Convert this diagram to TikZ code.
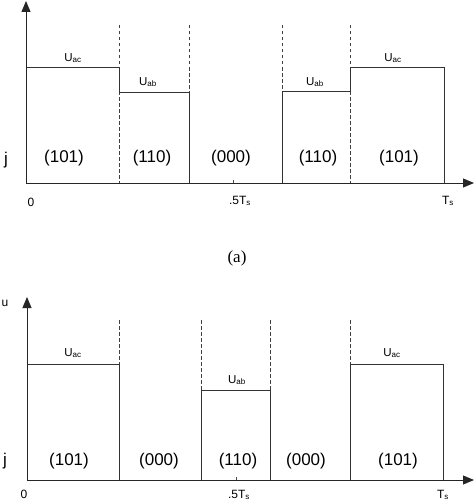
\documentclass[tikz,border=0pt]{standalone}
\usepackage{fontspec}
\setmainfont{Liberation Sans}
\newfontfamily\serifcap{Liberation Serif}
\usetikzlibrary{arrows.meta}
\tikzset{
  ax/.style={draw=black!85, line width=0.9pt, -{Triangle[length=11pt,width=9pt]}},
  wave/.style={draw=black!80, line width=0.8pt},
  divider/.style={draw=black!75, line width=0.7pt, dashed, dash pattern=on 3.5pt off 2.5pt},
  tick/.style={draw=black!70, line width=0.6pt},
  state/.style={font=\fontsize{17}{17}\selectfont, inner sep=0pt},
  lvl/.style={font=\fontsize{11.5}{12}\selectfont, inner sep=0pt},
  axl/.style={font=\fontsize{12}{12}\selectfont, inner sep=0pt},
}
\newcommand{\sbs}[1]{\textsubscript{\fontsize{8}{8}\selectfont #1}}
\begin{document}
\begin{tikzpicture}[x=1pt,y=-1pt]
\useasboundingbox (0,0) rectangle (474,503);
% ---------- (a) ----------
\coordinate (Ao) at (26,183);
\coordinate (Ay) at (26,1);
\coordinate (Ax) at (474,183);
\draw[divider] (119,25) -- (119,183);
\draw[divider] (189,25) -- (189,183);
\draw[divider] (282,25) -- (282,183);
\draw[divider] (350,25) -- (350,183);
\draw[wave] (Ao) -- (26,67) -- (119,67) -- (119,92) -- (189,92) -- (189,183);
\draw[wave] (282,183) -- (282,91) -- (350,91) -- (350,67) -- (444,67) -- (444,183);
\draw[tick] (233,180) -- (233,183);
\draw[ax] (Ao) -- (Ay);
\draw[ax] (Ao) -- (Ax);
\node[lvl] (a1) at (73,58) {U\sbs{ac}};
\node[lvl] (a2) at (148,82) {U\sbs{ab}};
\node[lvl] (a3) at (315,82) {U\sbs{ab}};
\node[lvl] (a4) at (393,58) {U\sbs{ac}};
\node[state] (s1) at (64,158) {(101)};
\node[state] (s2) at (152,158) {(110)};
\node[state] (s3) at (231,158) {(000)};
\node[state] (s4) at (318,158) {(110)};
\node[state] (s5) at (399,158) {(101)};
\node[state] (j1) at (6,160) {j};
\node[axl] (z1) at (31,202) {0};
\node[axl] (h1) at (240,201) {.5T\sbs{s}};
\node[axl] (t1) at (448,201) {T\sbs{s}};
\node[font=\serifcap\fontsize{17}{17}\selectfont, inner sep=0pt] (cap) at (237,258) {(a)};
% ---------- (b) ----------
\coordinate (Bo) at (27,480);
\coordinate (By) at (27,297);
\coordinate (Bx) at (474,480);
\draw[divider] (119,320) -- (119,480);
\draw[divider] (201,320) -- (201,480);
\draw[divider] (270,320) -- (270,480);
\draw[divider] (350,320) -- (350,480);
\draw[wave] (Bo) -- (27,364) -- (119,364) -- (119,480);
\draw[wave] (201,480) -- (201,390) -- (270,390) -- (270,480);
\draw[wave] (350,480) -- (350,364) -- (443,364) -- (443,480);
\draw[tick] (236,477) -- (236,480);
\draw[ax] (Bo) -- (By);
\draw[ax] (Bo) -- (Bx);
\node[lvl] (b1) at (73,353) {U\sbs{ac}};
\node[lvl] (b2) at (237,380) {U\sbs{ab}};
\node[lvl] (b3) at (392,353) {U\sbs{ac}};
\node[state] (r1) at (69,461) {(101)};
\node[state] (r2) at (159,461) {(000)};
\node[state] (r3) at (238,461) {(110)};
\node[state] (r4) at (306,461) {(000)};
\node[state] (r5) at (398,461) {(101)};
\node[state] (j2) at (5,461) {j};
\node[axl] (u2) at (5,303) {u};
\node[axl] (z2) at (24,494) {0};
\node[axl] (h2) at (239,495) {.5T\sbs{s}};
\node[axl] (t2) at (443,495) {T\sbs{s}};
\end{tikzpicture}
\end{document}
